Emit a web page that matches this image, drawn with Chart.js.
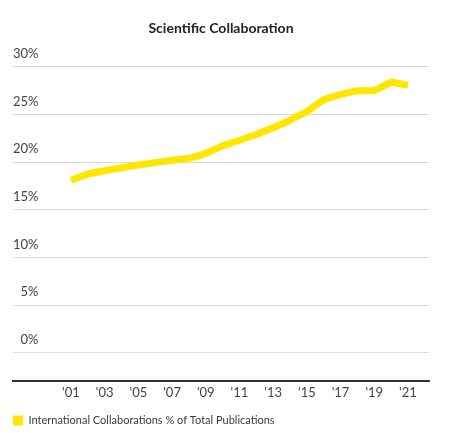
<!DOCTYPE html>
<html lang="en">
<head>
    <meta charset="UTF-8">
    <title>Scientific Collaboration</title>
    <script src="https://cdn.jsdelivr.net/npm/chart.js"></script>
    <style>
        body {
            margin: 0;
            background-color: #fff;
        }

        #chartContainer {
            width: 474px;
            height: 433px;
        }
    </style>
</head>
<body>
    <div id="chartContainer">
        <canvas id="chartCanvas"></canvas>
    </div>

    <script>
        // data
        const years = [2001, 2002, 2003, 2004, 2005, 2006, 2007, 2008, 2009, 2010, 2011,
            2012, 2013, 2014, 2015, 2016, 2017, 2018, 2019, 2020, 2021];
        const collabShare = [18.1, 18.75, 19.1, 19.4, 19.7, 19.95, 20.2, 20.4, 20.9, 21.7, 22.3,
            22.9, 23.6, 24.4, 25.3, 26.55, 27.1, 27.5, 27.5, 28.4, 28.05];
        const tickYears = [2001, 2003, 2005, 2007, 2009, 2011, 2013, 2015, 2017, 2019, 2021];
        const tickYearLabels = ["'01", "'03", "'05", "'07", "'09", "'11", "'13", "'15", "'17", "'19", "'21"];
        const percentTicks = [0, 5, 10, 15, 20, 25, 30];

        const fontFamily = "Lato, 'Open Sans', sans-serif";
        const yellow = '#FFE600';

        // nudge the legend to the left edge of the gridlines
        const legendNudge = {
            id: 'legendNudge',
            afterLayout(chart) {
                chart.legend.left -= 7;
                chart.legend.top += 3;
            }
        };

        const ctx = document.getElementById('chartCanvas').getContext('2d');
        window.myChart = new Chart(ctx, {
            type: 'line',
            data: {
                datasets: [{
                    label: 'International Collaborations % of Total Publications',
                    data: years.map((y, i) => ({ x: y, y: collabShare[i] })),
                    borderColor: yellow,
                    backgroundColor: yellow,
                    borderWidth: 7,
                    borderJoinStyle: 'round',
                    pointRadius: 0,
                    tension: 0,
                    fill: false
                }]
            },
            options: {
                responsive: true,
                maintainAspectRatio: false,
                animation: false,
                layout: {
                    padding: { left: 13, right: 45, top: 0, bottom: 0 }
                },
                plugins: {
                    title: {
                        display: true,
                        text: 'Scientific Collaboration',
                        color: '#222',
                        font: { family: fontFamily, size: 14, weight: 'bold' },
                        padding: { top: 20, bottom: 30 }
                    },
                    legend: {
                        position: 'bottom',
                        align: 'start',
                        labels: {
                            boxWidth: 10,
                            boxHeight: 10,
                            padding: 7,
                            color: '#3a3a3a',
                            font: { family: fontFamily, size: 11 },
                            generateLabels(chart) {
                                const items = Chart.defaults.plugins.legend.labels.generateLabels(chart);
                                items.forEach(it => { it.lineWidth = 0; it.fillStyle = yellow; });
                                return items;
                            }
                        }
                    },
                    tooltip: { enabled: false }
                },
                scales: {
                    x: {
                        type: 'linear',
                        min: 1997.56,
                        max: 2022.25,
                        afterBuildTicks(axis) {
                            axis.ticks = tickYears.map(v => ({ value: v }));
                        },
                        grid: { display: false, drawTicks: false },
                        border: { display: true, color: '#333', width: 2 },
                        ticks: {
                            padding: 4,
                            color: '#444',
                            font: { family: fontFamily, size: 13 },
                            autoSkip: false,
                            maxRotation: 0,
                            callback(value) {
                                return tickYearLabels[tickYears.indexOf(value)];
                            }
                        }
                    },
                    y: {
                        min: -3,
                        max: 30,
                        afterBuildTicks(axis) {
                            axis.ticks = percentTicks.map(v => ({ value: v }));
                        },
                        grid: { color: '#dcdcdc', lineWidth: 1, drawTicks: false },
                        border: { display: false },
                        ticks: {
                            mirror: true,
                            crossAlign: 'far',
                            padding: 0,
                            labelOffset: -13,
                            color: '#444',
                            font: { family: fontFamily, size: 13 },
                            callback(value) {
                                return value + '%';
                            }
                        }
                    }
                }
            },
            plugins: [legendNudge]
        });
    </script>
</body>
</html>
